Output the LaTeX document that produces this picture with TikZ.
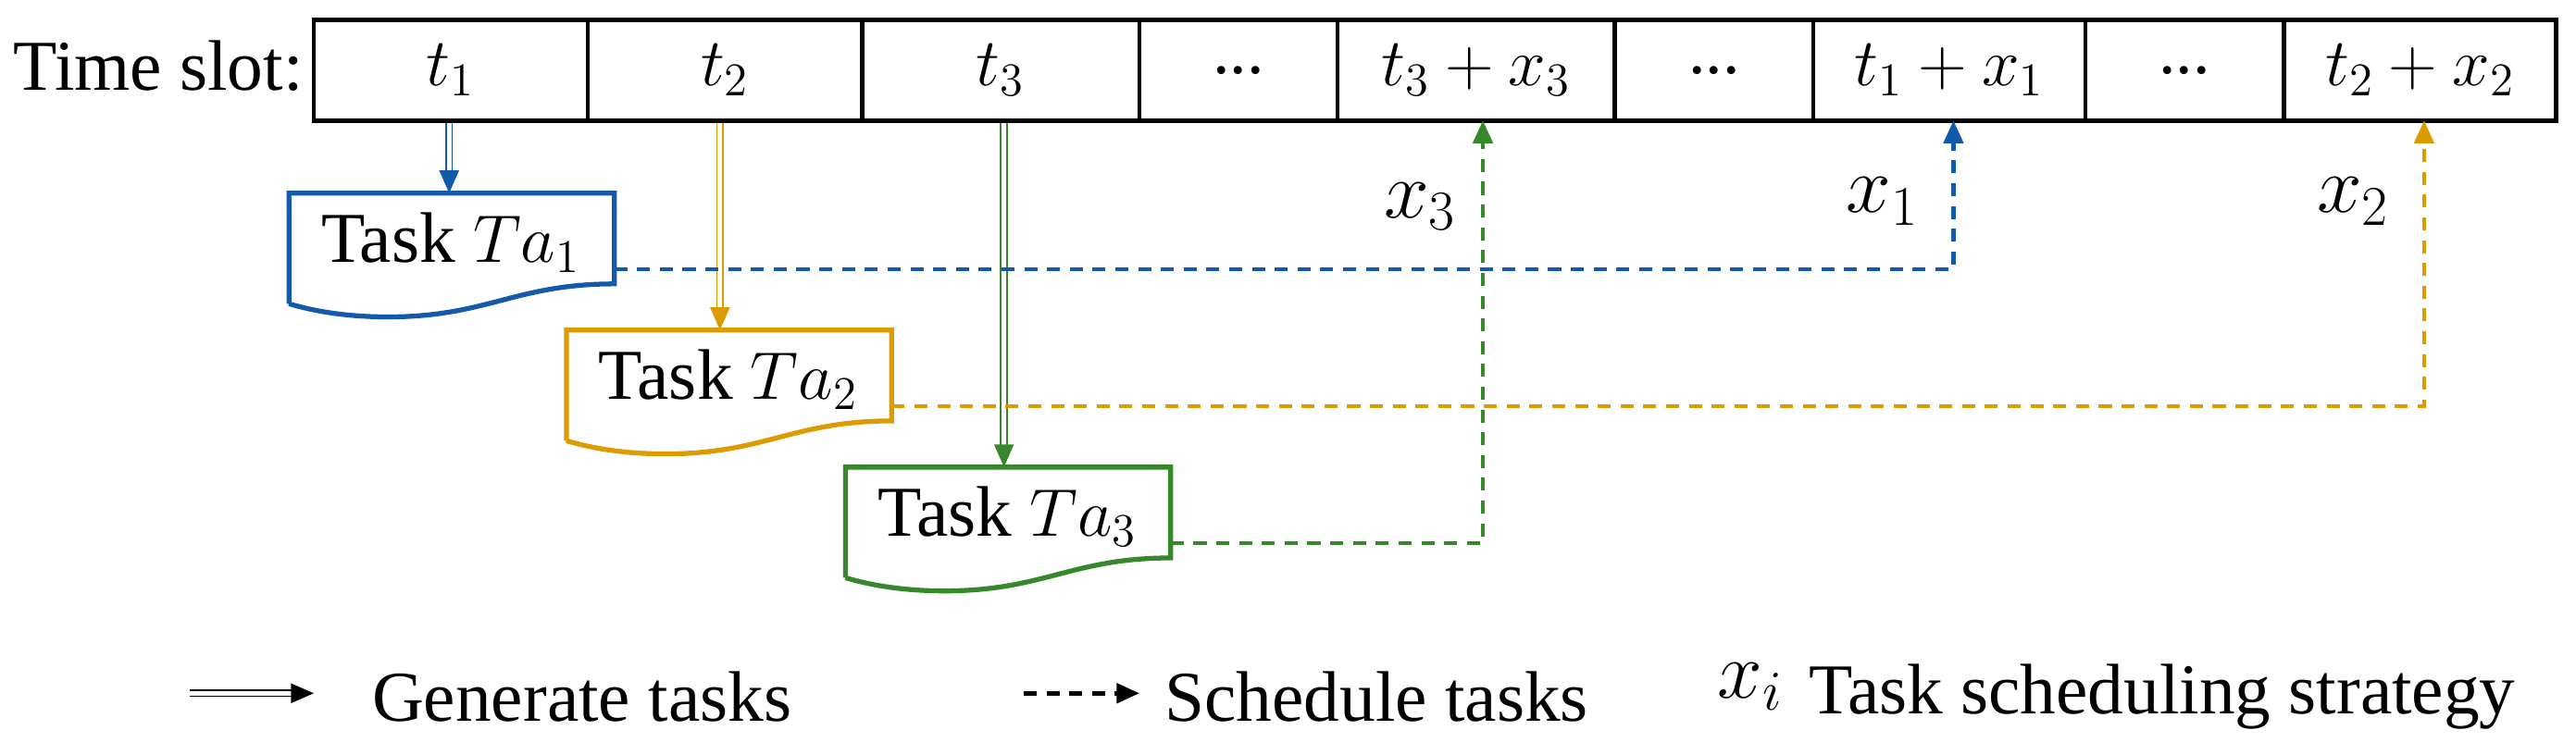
\documentclass[tikz,border=0pt]{standalone}
\usepackage{fontspec}
\setmainfont{Liberation Serif}
\usetikzlibrary{arrows.meta}
\definecolor{cb}{RGB}{20,90,170}
\definecolor{co}{RGB}{220,155,0}
\definecolor{cg}{RGB}{55,135,45}
\newcommand{\tdots}{...}
\tikzset{
 cell/.style={draw,line width=1.3pt,minimum height=61*0.01784cm,inner sep=0pt,font=\fontsize{21}{24}\selectfont},
 gen/.style={draw=#1,double=white,double distance=1.4pt,line width=0.5pt,-{Triangle[length=7pt,width=6pt,fill=#1]},shorten >=0pt},
 sch/.style={draw=#1,dashed,line width=1.3pt,dash pattern=on 4pt off 3pt,-{Triangle[length=7pt,width=6pt]}},
 lab/.style={font=\fontsize{23}{26}\selectfont,inner sep=1pt},
 txt/.style={font=\fontsize{22}{25}\selectfont,inner sep=0pt},
}
\begin{document}
\begin{tikzpicture}[x=0.01784cm,y=-0.01784cm]
\useasboundingbox (0,0) rectangle (1560,457);
\node[txt,anchor=east] (ts) at (184,40) {Time slot:};
\foreach \a/\b/\n/\t in {190/356/c1/$t_1$,356/522/c2/$t_2$,522/690/c3/$t_3$,690/810/c4/\tdots,810/978/c5/$t_3+x_3$,978/1098/c6/\tdots,1098/1263/c7/$t_1+x_1$,1263/1383/c8/\tdots,1383/1548/c9/$t_2+x_2$}
  \node[cell,minimum width=(\b-\a)*0.01784cm] (\n) at ({(\a+\b)/2},42.5) {\t};
\foreach \n/\xa/\ya/\c/\i in {d1/175/117/cb/1,d2/343/200/co/2,d3/512/283/cg/3}{
  \pgfmathsetmacro{\xb}{\xa+197}
  \pgfmathsetmacro{\yb}{\ya+55}
  \draw[\c,line width=1.5pt,line join=miter,fill=white]
   (\xa,\yb+12) -- (\xa,\ya) -- (\xb,\ya) -- (\xb,\yb)
   .. controls (\xb-60,\yb) and (\xa+120,\yb+20) .. (\xa+60,\yb+20)
   .. controls (\xa+30,\yb+20) and (\xa+10,\yb+15) .. (\xa,\yb+12);
  \node[txt] (\n) at (\xa+98,\ya+30) {Task $Ta_{\i}$};
  \coordinate (\n r) at (\xb,\ya+46);
}
\coordinate (d1t) at (272,117);
\coordinate (d2t) at (436,200);
\coordinate (d3t) at (608,283);
\draw[gen=cb] (c1.south -| d1t) -- (d1t);
\draw[gen=co] (c2.south -| d2t) -- (d2t);
\draw[gen=cg] (c3.south -| d3t) -- (d3t);
\draw[sch=cb] (d1r) -| (1183,73);
\draw[sch=co] (d2r) -| (1468,73);
\draw[sch=cg] (d3r) -| (898,73);
\node[lab] (x3) at (860,125) {$x_3$};
\node[lab] (x1) at (1140,122) {$x_1$};
\node[lab] (x2) at (1425,122) {$x_2$};
\coordinate (g1) at (115,420); \coordinate (g2) at (190,420);
\draw[gen=black] (g1) -- (g2);
\node[txt,anchor=west] (gt) at (225,422) {Generate tasks};
\coordinate (s1) at (620,420); \coordinate (s2) at (690,420);
\draw[sch=black] (s1) -- (s2);
\node[txt,anchor=west] (st) at (705,422) {Schedule tasks};
\node[lab] (xi) at (1060,416) {$x_i$};
\node[txt,anchor=west] (tt) at (1095,422) {Task scheduling strategy};
\end{tikzpicture}
\end{document}
